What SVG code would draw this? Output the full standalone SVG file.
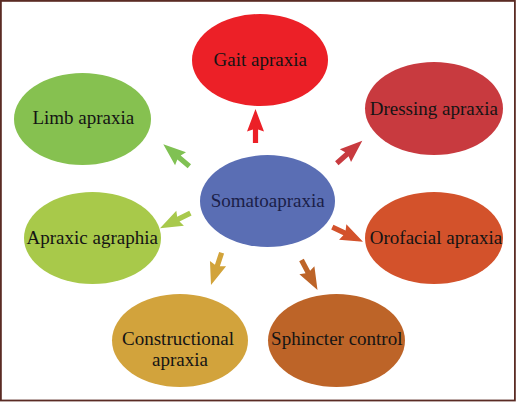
<svg xmlns="http://www.w3.org/2000/svg" width="518" height="402" viewBox="0 0 518 402">
<defs>
<style>
.lbl{font-family:"Liberation Serif","Times New Roman",serif;font-size:19px;fill:#141414;text-anchor:middle}
</style>
<path id="arr" d="M0,0 L8.5,22.5 L2.6,20.5 L2.6,34 L-2.6,34 L-2.6,20.5 L-8.5,22.5 Z"/>
</defs>
<rect x="0" y="0" width="518" height="402" fill="#ffffff"/>
<rect x="0.9" y="0.9" width="514" height="399.6" fill="none" stroke="#5a2b24" stroke-width="1.8"/>
<g id="connectors">
<use href="#arr" fill="#ec2027" transform="translate(255.5,109) rotate(0)"/>
<use href="#arr" fill="#80c153" transform="translate(163.3,144.3) rotate(-50)"/>
<use href="#arr" fill="#c83a3f" transform="translate(362.3,140.7) rotate(48.6)"/>
<use href="#arr" fill="#a8c94c" transform="translate(160,228.3) rotate(-116.6)"/>
<use href="#arr" fill="#d2a33a" transform="translate(211,285) rotate(-161.8)"/>
<use href="#arr" fill="#bd6428" transform="translate(317.5,290) rotate(151.9)"/>
<use href="#arr" fill="#d3522b" transform="translate(363,241.7) rotate(115.5)"/>
</g>
<g id="node-gait">
<ellipse cx="260" cy="60" rx="68" ry="46" fill="#ec2027"/>
<text class="lbl" x="260.3" y="65.5">Gait apraxia</text>
</g>
<g id="node-limb">
<ellipse cx="82.5" cy="119" rx="68.5" ry="46" fill="#86c150"/>
<text class="lbl" x="83.3" y="124">Limb apraxia</text>
</g>
<g id="node-dressing">
<ellipse cx="434" cy="108.5" rx="69" ry="46.5" fill="#c83a3f"/>
<text class="lbl" x="433.8" y="115">Dressing apraxia</text>
</g>
<g id="node-somato">
<ellipse cx="267.5" cy="201" rx="67.5" ry="46" fill="#5a6eb4"/>
<text class="lbl" x="267.7" y="206.5" style="fill:#1b1e48">Somatoapraxia</text>
</g>
<g id="node-agraphia">
<ellipse cx="92.5" cy="238" rx="68.5" ry="46" fill="#a8c94a"/>
<text class="lbl" x="92.2" y="244">Apraxic agraphia</text>
</g>
<g id="node-orofacial">
<ellipse cx="434" cy="238" rx="69" ry="46" fill="#d3522b"/>
<text class="lbl" x="436" y="244">Orofacial apraxia</text>
</g>
<g id="node-constructional">
<ellipse cx="180" cy="340.5" rx="68" ry="46.5" fill="#d2a33c"/>
<text class="lbl" x="178" y="345">Constructional</text>
<text class="lbl" x="180" y="366">apraxia</text>
</g>
<g id="node-sphincter">
<ellipse cx="336.5" cy="340.5" rx="68.5" ry="46.5" fill="#bd6428"/>
<text class="lbl" x="336.8" y="345">Sphincter control</text>
</g>
</svg>
